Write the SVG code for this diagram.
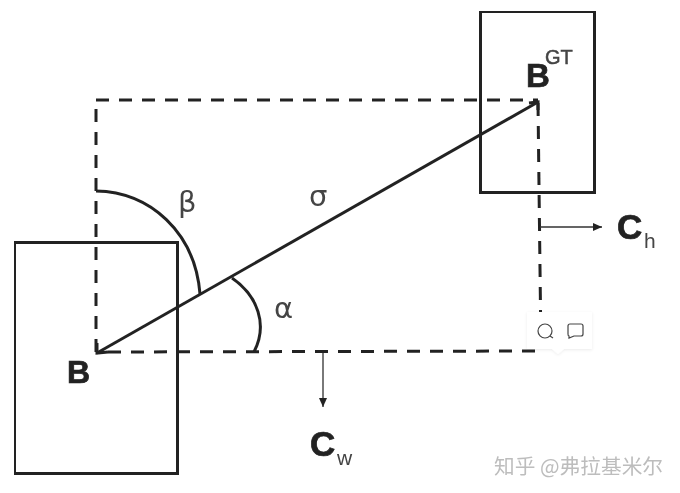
<svg xmlns="http://www.w3.org/2000/svg" width="680" height="493" viewBox="0 0 680 493">
<style>
.box{fill:none;stroke:#222;stroke-width:3}
.dash{fill:none;stroke:#222;stroke-width:3;stroke-dasharray:13 10}
.solid{fill:none;stroke:#222;stroke-width:3}
.thin{fill:none;stroke:#333;stroke-width:1.3}
.big{font-family:"Liberation Sans",Arial,sans-serif;font-weight:bold;fill:#222;stroke:#222;stroke-width:0.7}
.reg{font-family:"Liberation Sans",Arial,sans-serif;fill:#444}
.greek{font-family:"DejaVu Sans","Liberation Sans",sans-serif;fill:#444;font-size:29px}
.icon{fill:none;stroke:#444;stroke-width:1.2}
</style>
<defs>
<marker id="tip" markerUnits="userSpaceOnUse" markerWidth="10" markerHeight="10" refX="9" refY="5" orient="auto"><path d="M0,1 L9,5 L0,9 Z" fill="#222"/></marker>
<filter id="sh" x="-10%" y="-10%" width="120%" height="130%"><feDropShadow dx="0" dy="1" stdDeviation="1.500" flood-color="#000" flood-opacity="0.08"/></filter>
<filter id="soft" x="0" y="0" width="100%" height="100%"><feGaussianBlur stdDeviation="0.400"/></filter>
</defs>
<rect width="680" height="493" fill="#fff"/>
<g filter="url(#soft)">
<g id="connectors">
<path class="dash" d="M96,100 H538"/>
<path class="dash" d="M96,352 V100"/>
<path class="dash" d="M108,352 L541,351"/>
<path class="dash" d="M538,103 L541,351"/>
<path class="solid" d="M97,353 L538,102"/>
<path class="solid" d="M97,343 L97,353 L108,352"/>
<path class="solid" d="M529,103 L538,102 L538,110"/>
<path class="thin" d="M540,227 H602" marker-end="url(#tip)"/>
<path class="thin" d="M323,353 V407" marker-end="url(#tip)"/>
<path class="solid" d="M96,191 C150,192 195,232 200,294"/>
<path class="solid" d="M232,278 C258,296 268,325 254,352"/>
</g>
<g id="node-b">
<rect class="box" x="14.500" y="242.500" width="163" height="231"/>
<text class="big" x="67" y="383" font-size="32">B</text>
</g>
<g id="node-bgt">
<rect class="box" x="480.500" y="11.500" width="114" height="181"/>
<text class="big" x="526" y="87" font-size="33">B</text>
<text class="reg" x="545" y="64" font-size="20" style="stroke:#444;stroke-width:0.5">GT</text>
</g>
<g id="label-beta"><text class="greek" x="178" y="212">β</text></g>
<text class="greek" x="309" y="206">σ</text>
<text class="greek" x="274" y="318">α</text>
<g id="label-ch">
<text class="big" x="617" y="239" font-size="35">C</text>
<text class="reg" x="644" y="248" font-size="21">h</text>
</g>
<g id="label-cw">
<text class="big" x="310" y="456" font-size="35">C</text>
<text class="reg" x="337" y="465" font-size="21">w</text>
</g>
<g id="popup">
<path d="M527,312 H592 V349 H564 L558,354 L552,349 H527 Z" fill="#fff" filter="url(#sh)"/>
<circle class="icon" cx="545" cy="331" r="7"/>
<path class="icon" d="M550,336 L553,338"/>
<path class="icon" d="M570,324 H581 Q583,324 583,326 V334 Q583,336 581,336 H574 L569,338 V336 Q568,336 568,334 V326 Q568,324 570,324 Z"/>
</g>
<g id="watermark">
<text x="494" y="474" font-size="20.700" fill="#bdbdbd" font-family="'Noto Sans CJK SC',sans-serif">知乎 @弗拉基米尔</text>
</g>
</g>
</svg>
